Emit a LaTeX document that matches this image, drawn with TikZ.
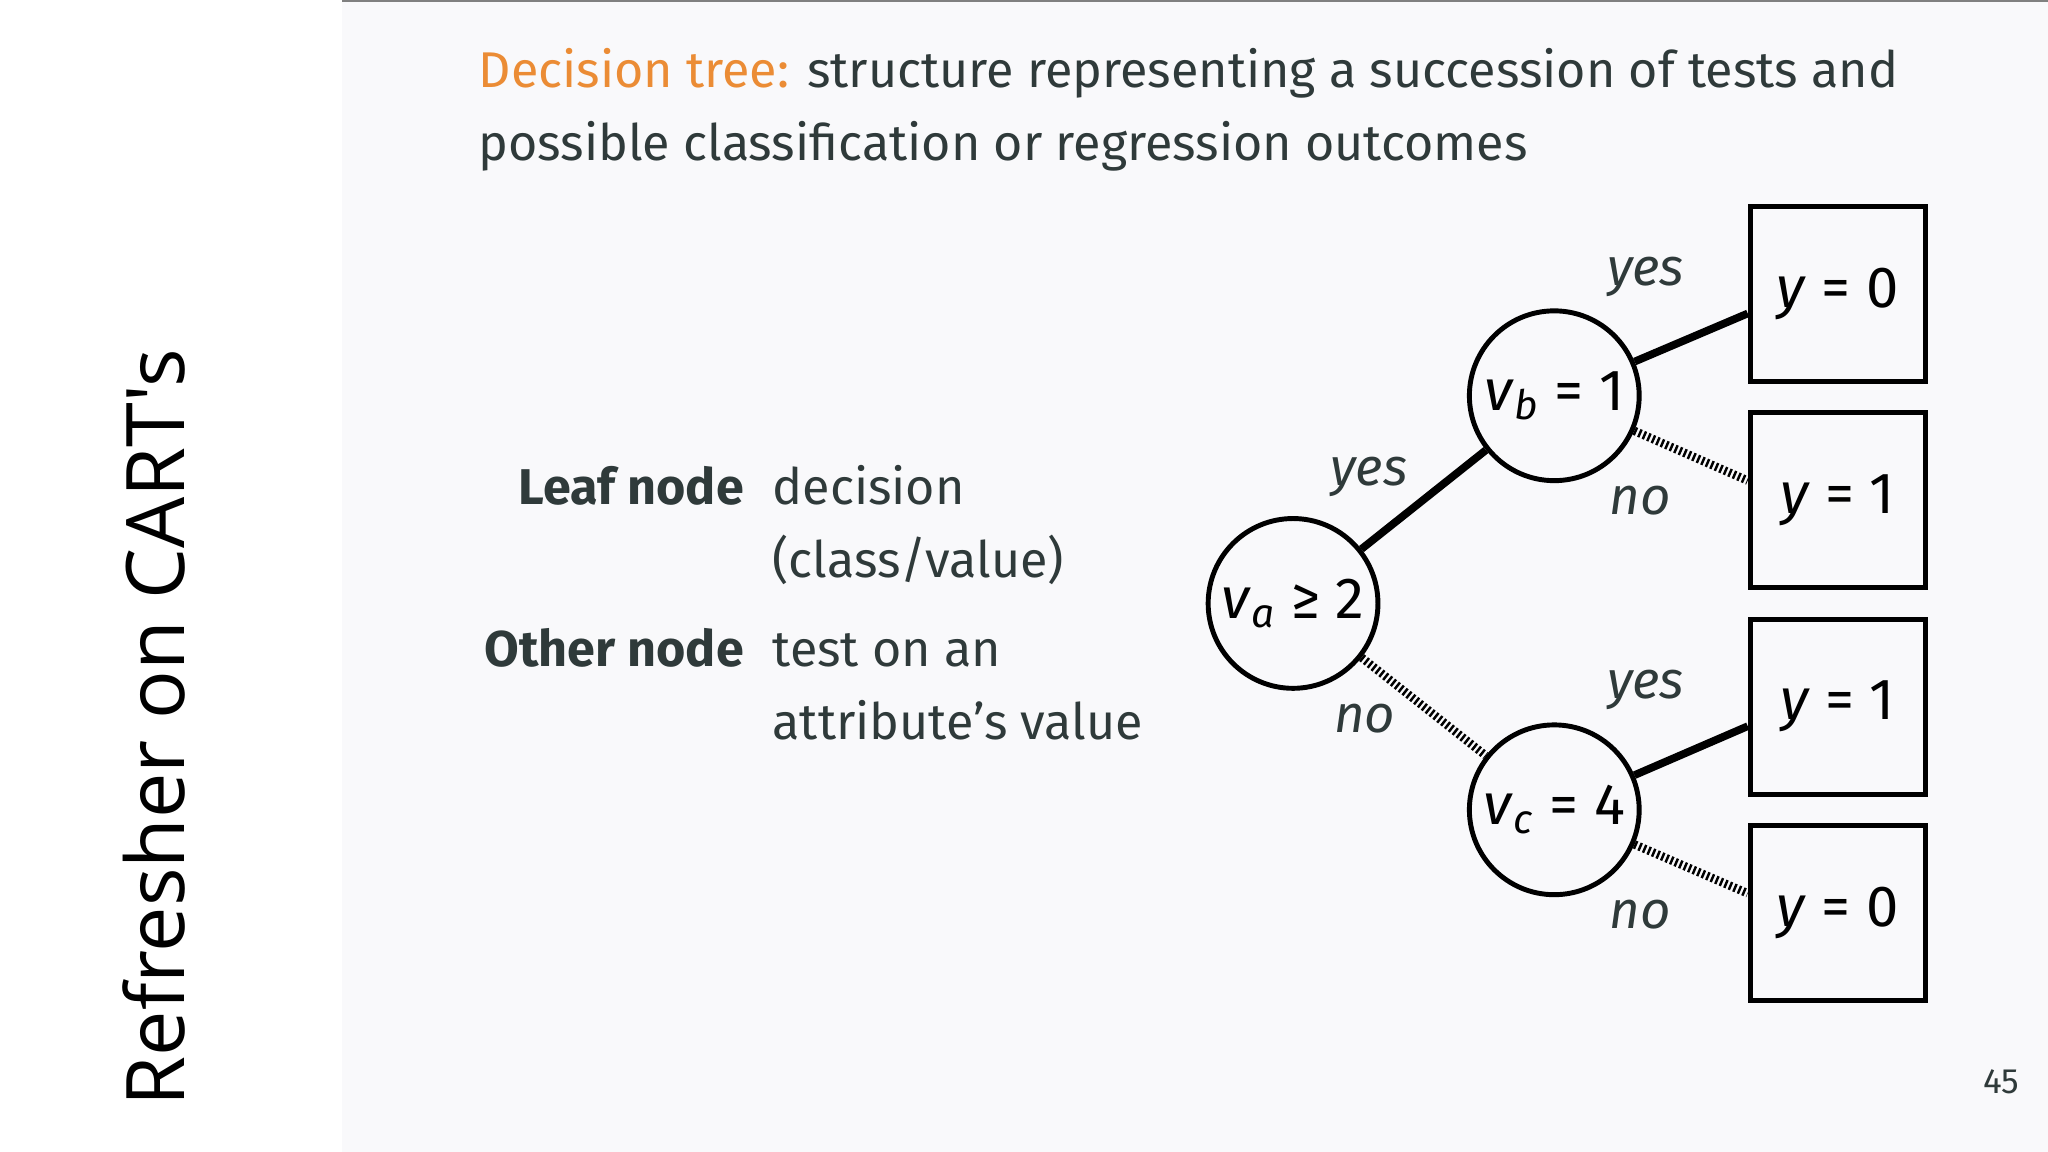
\documentclass[tikz,border=0pt]{standalone}
\usepackage{fontspec}
\setmainfont{Fira Sans}
\setsansfont{Fira Sans}
\newfontfamily\titlefont{Open Sans}
\usetikzlibrary{calc}
\definecolor{bgc}{HTML}{F9F9FB}
\definecolor{txt}{HTML}{2F3A3A}
\definecolor{orn}{HTML}{EB8C35}
\newcommand{\mv}[1]{\textit{#1}}
\begin{document}
\begin{tikzpicture}[x=0.01306cm,y=-0.01306cm,
  tnode/.style={circle,draw,line width=1.4pt,minimum size=130*0.01306cm,inner sep=0pt,font=\fontsize{16.5}{18}\selectfont},
  leaf/.style={rectangle,draw,line width=1.4pt,minimum width=134*0.01306cm,minimum height=134*0.01306cm,inner sep=0pt,font=\fontsize{16.5}{18}\selectfont},
  solidedge/.style={line width=2.2pt},
  dotedge/.style={line width=2.4pt,dash pattern=on 0.7pt off 0.7pt},
  elab/.style={font=\fontsize{15}{18}\selectfont\itshape,text=txt},
  body/.style={font=\fontsize{14.3}{20.5}\selectfont,text=txt,inner sep=0pt,anchor=base west}]
\useasboundingbox (0,0) rectangle (1568,882);
\fill[white] (0,0) rectangle (262,882);
\fill[bgc] (262,0) rectangle (1568,882);
\draw[gray,line width=0.8pt] (262,0.5) -- (1568,0.5);
\node[rotate=90,font=\titlefont\fontsize{23}{28}\selectfont,text=black] (title) at (118,557) {Refresher on CART's};
\node[body] (h1) at (366,67) {\textcolor{orn}{Decision tree:} structure representing a succession of tests and};
\node[body] (h2) at (366,123) {possible classification or regression outcomes};
\node[body,anchor=base east] (ln) at (570,386) {\textbf{Leaf node}};
\node[body] (ld1) at (591,386) {decision};
\node[body] (ld2) at (591,442) {(class/value)};
\node[body,anchor=base east] (on) at (570,510) {\textbf{Other node}};
\node[body] (od1) at (591,510) {test on an};
\node[body] (od2) at (591,566) {attribute’s value};
\node[tnode] (va) at (990,462) {\mv{v}\textsubscript{\mv{a}} ≥ 2};
\node[tnode] (vb) at (1190,303) {\mv{v}\textsubscript{\mv{b}} = 1};
\node[tnode] (vc) at (1190,620) {\mv{v}\textsubscript{\mv{c}} = 4};
\node[leaf] (b1) at (1407,225) {\mv{y} = 0};
\node[leaf] (b2) at (1407,383) {\mv{y} = 1};
\node[leaf] (b3) at (1407,541) {\mv{y} = 1};
\node[leaf] (b4) at (1407,699) {\mv{y} = 0};
\draw[solidedge] (va) -- (vb);
\draw[dotedge] (va) -- (vc);
\draw[solidedge] (vb) -- ($(b1.west)+(0,15)$);
\draw[dotedge] (vb) -- ($(b2.west)+(0,-15)$);
\draw[solidedge] (vc) -- ($(b3.west)+(0,15)$);
\draw[dotedge] (vc) -- ($(b4.west)+(0,-15)$);
\node[elab] (l1) at (1048,365) {yes};
\node[elab] (l2) at (1045,550) {no};
\node[elab] (l3) at (1260,212) {yes};
\node[elab] (l4) at (1256,383) {no};
\node[elab] (l5) at (1260,528) {yes};
\node[elab] (l6) at (1256,700) {no};
\node[font=\fontsize{10}{12}\selectfont,text=txt] (pg) at (1532,828) {45};
\end{tikzpicture}
\end{document}
